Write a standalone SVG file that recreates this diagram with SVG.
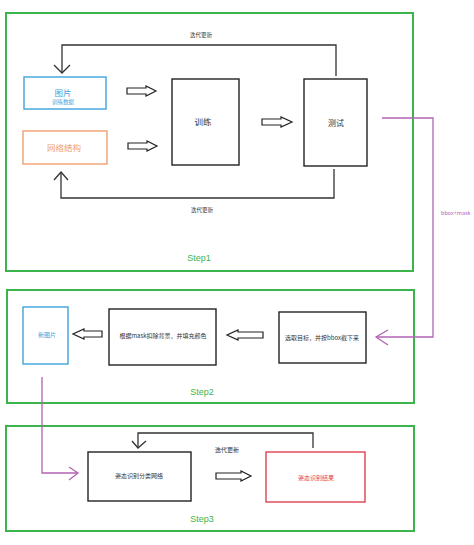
<svg xmlns="http://www.w3.org/2000/svg" width="474" height="545" viewBox="0 0 474 545">
<style>
text{font-family:"Noto Sans CJK SC","Liberation Sans",sans-serif;text-anchor:middle;dominant-baseline:central}
.step{fill:none;stroke:#3cb44b;stroke-width:2}
.stepT{fill:#3cb44b;font-size:9px;font-family:"Liberation Sans","Noto Sans CJK SC",sans-serif}
.blk{fill:#fff;stroke:#222;stroke-width:1.4}
.ln{fill:none;stroke:#333;stroke-width:1.3}
.pl{fill:none;stroke:#b264b4;stroke-width:1.3}
.harr{fill:#fff;stroke:#222;stroke-width:1.2}
.sm{font-size:6px;fill:#333}
</style>
<rect width="474" height="545" fill="#fff"/>
<g id="steps">
<rect class="step" x="6" y="13" width="407" height="258"/>
<rect class="step" x="7" y="290" width="407" height="113"/>
<rect class="step" x="6" y="426" width="408" height="105"/>
<text class="stepT" x="199" y="258">Step1</text>
<text class="stepT" x="202" y="392">Step2</text>
<text class="stepT" x="202" y="519">Step3</text>
</g>
<g id="connectors">
<polyline class="ln" points="336,76 336,45 62,45 62,72"/>
<polyline class="ln" points="54,65 62,73 70,65"/>
<text class="sm" x="201" y="35" style="font-size:5.5px">迭代更新</text>
<polyline class="ln" points="334,169 334,198 61,198 61,173"/>
<polyline class="ln" points="54,180 61,172 68,180"/>
<text class="sm" x="202" y="210" style="font-size:5.5px">迭代更新</text>
<polyline class="ln" points="313,448 313,433 138,433 138,447"/>
<polyline class="ln" points="132,441 138,448 146,441"/>
<text class="sm" x="227" y="449">迭代更新</text>
<polygon class="harr" points="127,88 146,88 146,86 156,91 146,96 146,94 127,94"/>
<polygon class="harr" points="128,143 147,143 147,141 157,146 147,151 147,149 128,149"/>
<polygon class="harr" points="262,119 281,119 281,117 292,122 281,127 281,125 262,125"/>
<polygon class="harr" points="102,331 84,331 84,329 73,334 84,339 84,337 102,337"/>
<polygon class="harr" points="263,332 238,332 238,330 227,335 238,340 238,338 263,338"/>
<polygon class="harr" points="216,473 241,473 241,471 251,476 241,481 241,479 216,479"/>
<polyline class="pl" points="382,118 433,118 433,337 376,337"/>
<polyline class="pl" points="388,330 376,337 388,345"/>
<text x="441" y="213" style="font-size:5.5px;fill:#b264b4;text-anchor:start">bbox+mask</text>
<polyline class="pl" points="42,377 42,473 78,473"/>
<polyline class="pl" points="69,467 78,473 69,480"/>
</g>
<g id="n-picture">
<rect x="24" y="77" width="82" height="32" fill="#fff" stroke="#3ea3dc" stroke-width="1.4"/>
<text x="63" y="92" style="font-size:8.5px;fill:#3ea3dc">图片</text>
<text x="63" y="101.5" style="font-size:5.5px;fill:#3ea3dc">训练数据</text>
</g>
<g id="n-net">
<rect x="23" y="131" width="84" height="33" fill="#fff" stroke="#f0a070" stroke-width="1.4"/>
<text x="64" y="147" style="font-size:8.5px;fill:#f0a070">网络结构</text>
</g>
<g id="n-train">
<rect class="blk" x="172" y="79" width="67" height="86"/>
<text x="203" y="121" style="font-size:8.5px;fill:#333">训练</text>
</g>
<g id="n-test">
<rect class="blk" x="304" y="79" width="63" height="87"/>
<text x="336" y="122" style="font-size:8px;fill:#333">测试</text>
</g>
<g id="n-newpic">
<rect x="23" y="307" width="45" height="57" fill="#fff" stroke="#3ea3dc" stroke-width="1.4"/>
<text x="47" y="334" style="font-size:6px;fill:#3ea3dc">新图片</text>
</g>
<g id="n-mask">
<rect class="blk" x="109" y="309" width="107" height="56"/>
<text class="sm" x="163" y="335">根据mask扣除背景，并填充颜色</text>
</g>
<g id="n-crop">
<rect class="blk" x="279" y="312" width="87" height="51"/>
<text class="sm" x="322" y="337">选取目标，并按bbox截下来</text>
</g>
<g id="n-cls">
<rect class="blk" x="88" y="452" width="103" height="49"/>
<text class="sm" x="139" y="475">姿态识别分类网络</text>
</g>
<g id="n-result">
<rect x="266" y="452" width="99" height="50" fill="#fff" stroke="#e04050" stroke-width="1.4"/>
<text x="316" y="477" style="font-size:6px;fill:#e04050">姿态识别结果</text>
</g>
</svg>
